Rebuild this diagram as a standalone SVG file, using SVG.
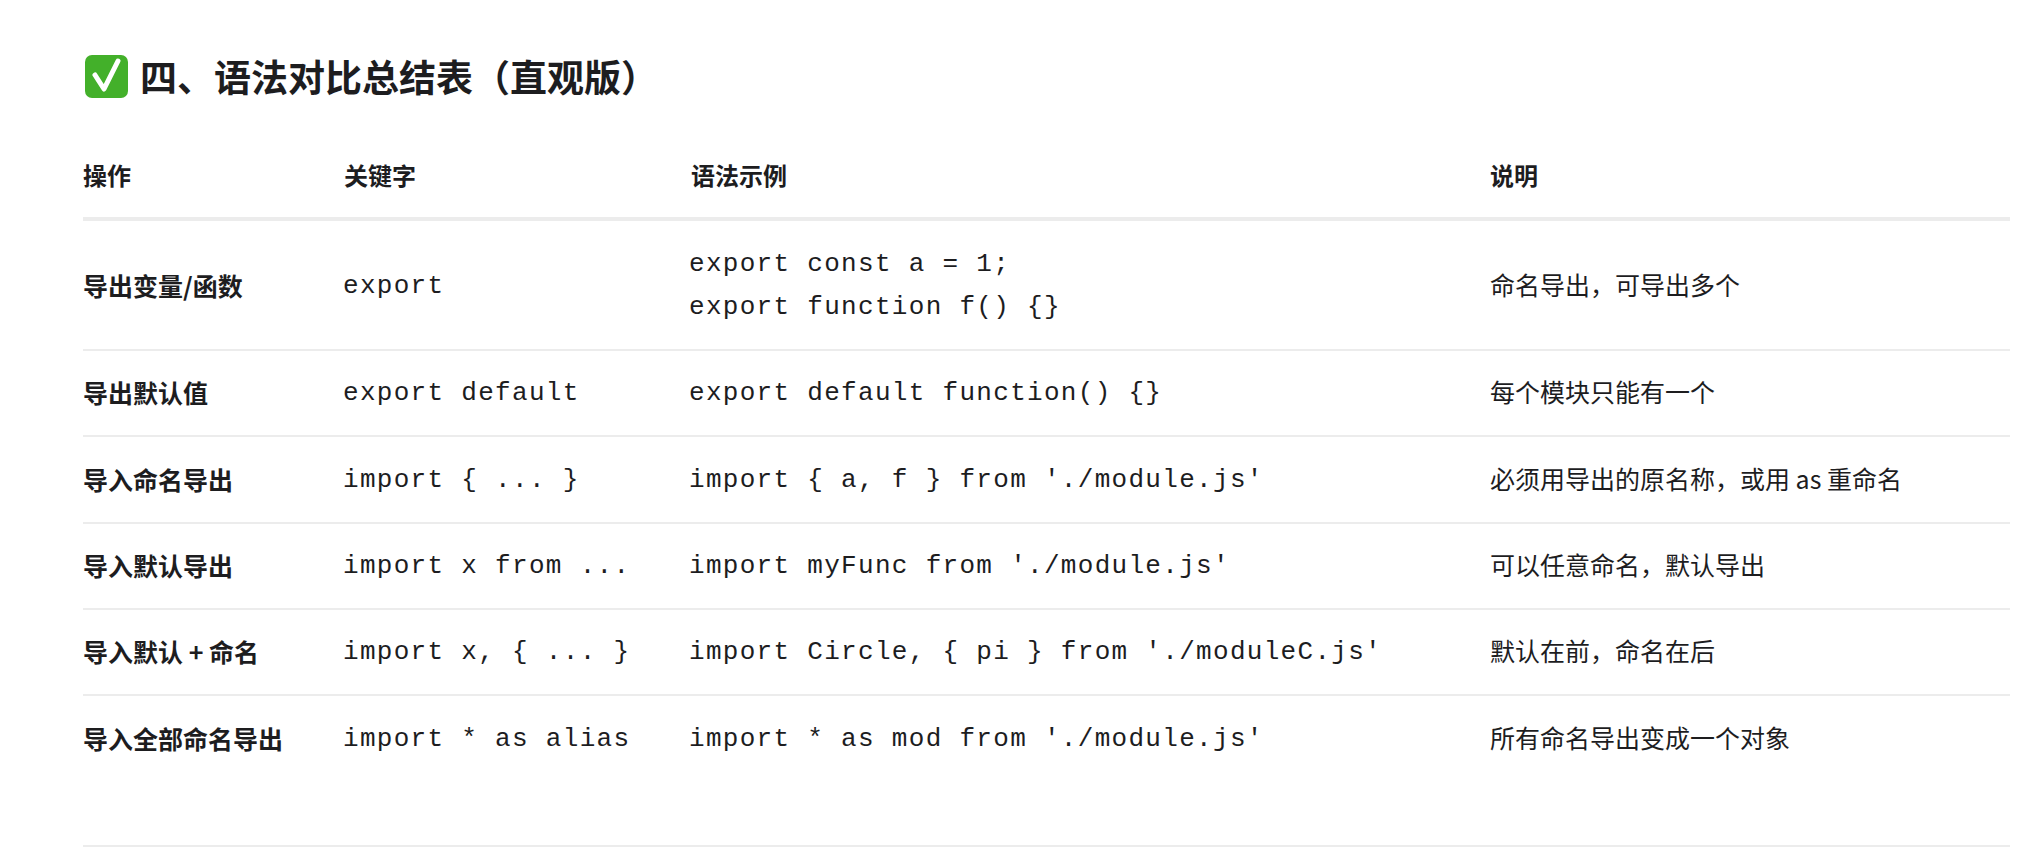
<svg xmlns="http://www.w3.org/2000/svg" width="2030" height="864" viewBox="0 0 2030 864">
<style>
text{fill:#1d1d1f;dominant-baseline:central}
.t{font:bold 37px "Noto Sans CJK SC",sans-serif}
.h{font:bold 24px "Noto Sans CJK SC",sans-serif}
.b{font:bold 25px "Noto Sans CJK SC",sans-serif}
.c{font:26px "Liberation Mono","Noto Sans CJK SC",monospace;letter-spacing:1.3px}
.d{font:25px "Noto Sans CJK SC",sans-serif}
.l{stroke:#ececec;stroke-width:2}
</style>
<rect width="2030" height="864" fill="#fff"/>
<g id="title">
<rect x="85" y="55" width="43" height="43" rx="7" fill="#43b02a"/>
<path d="M95 75 L104 89 L118 61" fill="none" stroke="#fff" stroke-width="5" stroke-linecap="round" stroke-linejoin="round"/>
<text class="t" x="140" y="76">四、语法对比总结表（直观版）</text>
</g>
<g id="lines">
<line x1="83" y1="219" x2="2010" y2="219" stroke="#ececec" stroke-width="4"/>
<line class="l" x1="83" y1="350" x2="2010" y2="350"/>
<line class="l" x1="83" y1="436" x2="2010" y2="436"/>
<line class="l" x1="83" y1="523" x2="2010" y2="523"/>
<line class="l" x1="83" y1="609" x2="2010" y2="609"/>
<line class="l" x1="83" y1="695" x2="2010" y2="695"/>
<line class="l" x1="83" y1="846" x2="2010" y2="846"/>
</g>
<g id="header">
<text class="h" x="83" y="174">操作</text>
<text class="h" x="344" y="174">关键字</text>
<text class="h" x="691" y="174">语法示例</text>
<text class="h" x="1490" y="174">说明</text>
</g>
<g id="row1">
<text class="b" x="83" y="285">导出变量/函数</text>
<text class="c" x="343" y="286">export</text>
<text class="c" x="689" y="264">export const a = 1;</text>
<text class="c" x="689" y="307">export function f() {}</text>
<text class="d" x="1490" y="284">命名导出，可导出多个</text>
</g>
<g id="row2">
<text class="b" x="83" y="392">导出默认值</text>
<text class="c" x="343" y="393">export default</text>
<text class="c" x="689" y="393">export default function() {}</text>
<text class="d" x="1490" y="391">每个模块只能有一个</text>
</g>
<g id="row3">
<text class="b" x="83" y="479">导入命名导出</text>
<text class="c" x="343" y="480">import { ... }</text>
<text class="c" x="689" y="480">import { a, f } from './module.js'</text>
<text class="d" x="1490" y="478">必须用导出的原名称，或用 as 重命名</text>
</g>
<g id="row4">
<text class="b" x="83" y="565">导入默认导出</text>
<text class="c" x="343" y="566">import x from ...</text>
<text class="c" x="689" y="566">import myFunc from './module.js'</text>
<text class="d" x="1490" y="564">可以任意命名，默认导出</text>
</g>
<g id="row5">
<text class="b" x="83" y="651">导入默认 + 命名</text>
<text class="c" x="343" y="652">import x, { ... }</text>
<text class="c" x="689" y="652">import Circle, { pi } from './moduleC.js'</text>
<text class="d" x="1490" y="650">默认在前，命名在后</text>
</g>
<g id="row6">
<text class="b" x="83" y="738">导入全部命名导出</text>
<text class="c" x="343" y="739">import * as alias</text>
<text class="c" x="689" y="739">import * as mod from './module.js'</text>
<text class="d" x="1490" y="737">所有命名导出变成一个对象</text>
</g>
</svg>
